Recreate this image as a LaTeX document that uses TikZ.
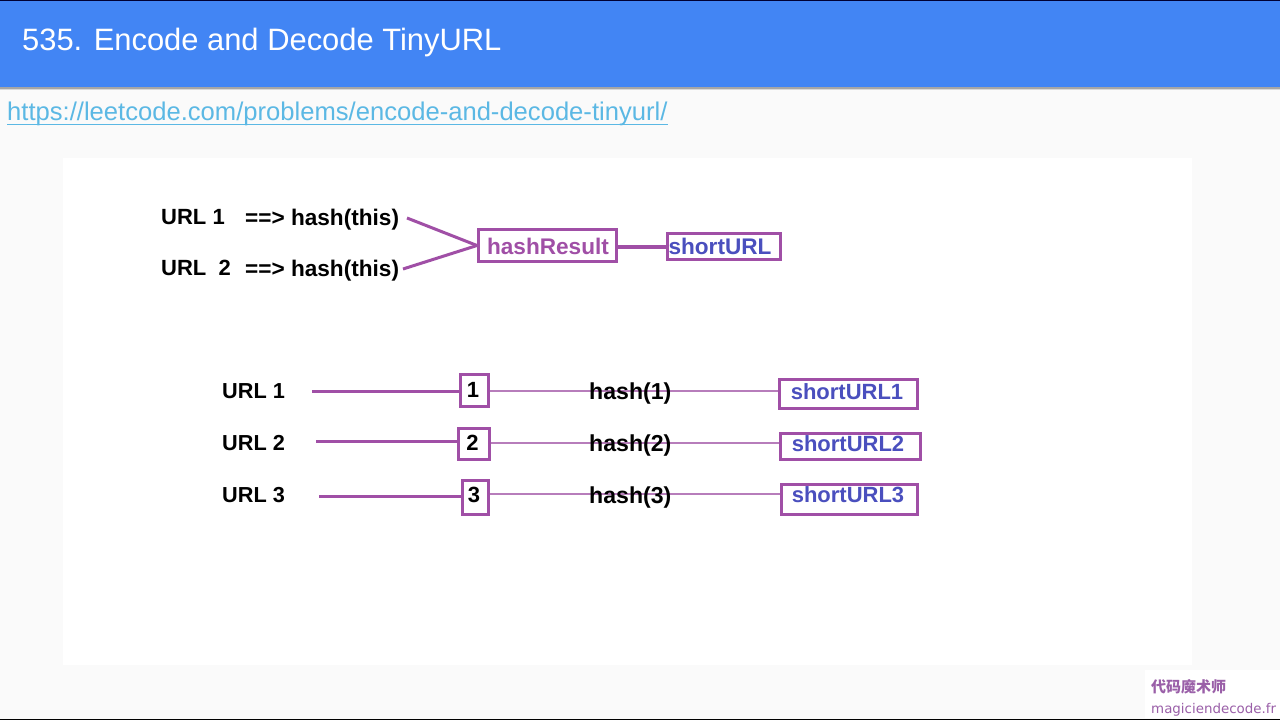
\documentclass[tikz,border=0pt]{standalone}
\usepackage{fontspec}
\setmainfont{Liberation Sans}
\newfontfamily\cjkfont{Noto Sans CJK SC}
\newfontfamily\markfont{DejaVu Sans}
\usetikzlibrary{calc}
\definecolor{hdr}{HTML}{4285F4}
\definecolor{pagebg}{HTML}{FAFAFA}
\definecolor{linkc}{HTML}{5BB8E4}
\definecolor{purp}{HTML}{A04FA6}
\definecolor{purpl}{HTML}{B77DBB}
\definecolor{bluet}{HTML}{4A4FBE}
\definecolor{marktext}{HTML}{9A5FA8}
\tikzset{
  x=1pt,y=-1pt,
  lbl/.style={anchor=west,inner sep=0pt,font=\fontsize{21.7}{24}\selectfont\bfseries,text=black},
  toplbl/.style={anchor=west,inner sep=0pt,font=\fontsize{22.6}{24}\selectfont\bfseries,text=black},
  boxed/.style={draw=purp,line width=3pt,fill=white,inner sep=0pt,anchor=north west},
  fat/.style={draw=purp,line width=3pt},
  slim/.style={draw=purpl,line width=1.1pt},
}
\begin{document}
\begin{tikzpicture}
\useasboundingbox (0,0) rectangle (1280,720);
\fill[pagebg] (0,0) rectangle (1280,720);
\fill[white] (63,158) rectangle (1192,665);
% header
\fill[black!15] (0,87) rectangle (1280,90);
\fill[black!35] (0,87) rectangle (1280,88.5);
\fill[hdr] (0,0) rectangle (1280,87);
\fill[black!80!blue] (0,0) rectangle (1280,1);
\fill[black] (0,718.5) rectangle (1280,720);
\node[anchor=west,inner sep=0pt,text=white,font=\fontsize{30.9}{34}\selectfont] (title) at (22,43) {535. Encode and Decode TinyURL};
\node[anchor=west,inner sep=0pt,text=linkc,font=\fontsize{25.6}{28}\selectfont] (link) at (7,114) {https://leetcode.com/problems/encode-and-decode-tinyurl/};
\draw[linkc,line width=1.5pt] (7,124.5) -- (668,124.5);
% top diagram
\node[toplbl,font=\fontsize{22}{24}\selectfont\bfseries] (u1) at (161,217) {URL 1};
\node[toplbl] (h1) at (245,220) {==> hash(this)};
\node[toplbl,font=\fontsize{22}{24}\selectfont\bfseries] (u2) at (161,268) {URL\ \ 2};
\node[toplbl] (h2) at (245,271) {==> hash(this)};
\node[boxed,minimum width=138pt,minimum height=32pt] (hr) at (477,228) {};
\node[anchor=center,inner sep=0pt,font=\fontsize{22.6}{24}\selectfont\bfseries,text=purp] (hrt) at (548,246) {hashResult};
\node[boxed,minimum width=113pt,minimum height=26pt] (su) at (666,232) {};
\node[anchor=center,inner sep=0pt,font=\fontsize{22.6}{24}\selectfont\bfseries,text=bluet] (sut) at (720,246) {shortURL};
\coordinate (f1) at (407,218);
\coordinate (f2) at (403,269);
\draw[fat] (f1) -- (hr.west);
\draw[fat] (f2) -- (hr.west);
\draw[purp,line width=4pt] (hr.east|-su.west) -- (su.west);
% bottom rows
\foreach \n/\ux/\uy/\lx/\ly/\bx/\by/\bw/\bh/\ty/\sx/\sy/\sw/\sh/\stx/\sty/\hy/\ny in {
 1/222/391/312/391/459/373/28/32/391/778/378/138/29/847/392/394/390,
 2/222/443/316/441/457/427/31/31/443/779/432/140/26/848/444/446/443,
 3/222/495/319/496/461/479/26/34/494/780/483/136/30/848/495/498/495}{
  \node[lbl] (url\n) at (\ux,\uy) {URL \n};
  \node[boxed,minimum width=\bw pt,minimum height=\bh pt] (b\n) at (\bx,\by) {};
  \node[anchor=center,inner sep=0pt,font=\fontsize{22}{24}\selectfont\bfseries] (bt\n) at ($(\bx,\ny)+(0.5*\bw,0)$) {\n};
  \node[boxed,minimum width=\sw pt,minimum height=\sh pt] (s\n) at (\sx,\sy) {};
  \node[anchor=center,inner sep=0pt,font=\fontsize{22}{24}\selectfont\bfseries,text=bluet] (st\n) at (\stx,\sty) {shortURL\n};
  \coordinate (c\n) at (\lx,\ly);
  \draw[fat] (c\n) -- (b\n.west|-c\n);
  \draw[slim] (b\n.east|-0,\ty) -- (s\n.west|-0,\ty);
  \node[anchor=west,inner sep=0pt,font=\fontsize{23.1}{24}\selectfont\bfseries] (hh\n) at (589,\hy) {hash(\n)};
}
% watermark
\fill[white] (1145,670) rectangle (1280,718);
\node[anchor=west,inner sep=0pt,text=marktext,font=\cjkfont\fontsize{15}{17}\selectfont\bfseries] (wm1) at (1151,687) {代码魔术师};
\node[anchor=west,inner sep=0pt,text=marktext,font=\markfont\fontsize{13.4}{16}\selectfont] (wm2) at (1151,710) {magiciendecode.fr};
\end{tikzpicture}
\end{document}
